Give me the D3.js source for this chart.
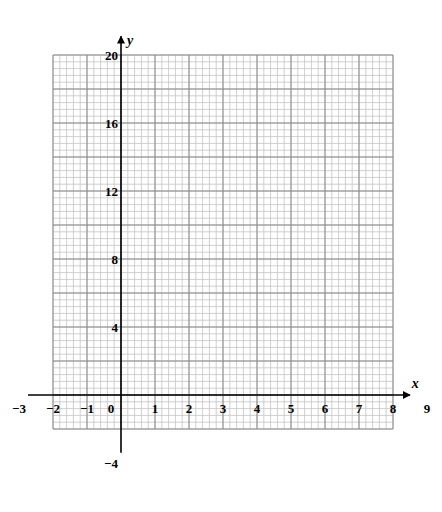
<html>
<head>
<script src="https://d3js.org/d3.v7.min.js"></script>
<style>
body { margin: 0; background: #fff; }
svg { font-family: "Liberation Serif", serif; }
.lbl { font-size: 13px; font-weight: bold; }
</style>
</head>
<body>
<svg id="chart" width="442" height="512"></svg>
<script>
// grid extents and tick labels
var xGrid = [-2, 8];
var yGrid = [-2, 20];
var xTicks = [-3, -2, -1, 0, 1, 2, 3, 4, 5, 6, 7, 8, 9];
var yTicks = [4, 8, 12, 16, 20];
var yBelow = [-4];
var xMinorStep = 0.2, yMinorStep = 0.4;
var xMajorStep = 1, yMajorStep = 2;

var svg = d3.select("#chart");
var x = d3.scaleLinear().domain([-2, 8]).range([53, 393]);
var y = d3.scaleLinear().domain([0, 20]).range([395, 55]);

function steps(a, b, s) {
  var n = Math.round((b - a) / s), out = [];
  for (var i = 0; i <= n; i++) out.push(+(a + i * s).toFixed(4));
  return out;
}

var g = svg.append("g");
// minor grid
g.selectAll(".vx").data(steps(xGrid[0], xGrid[1], xMinorStep)).enter().append("line")
  .attr("x1", d => x(d)).attr("x2", d => x(d)).attr("y1", y(yGrid[0])).attr("y2", y(yGrid[1]))
  .attr("stroke", "#c4c4c4").attr("stroke-width", 0.8);
g.selectAll(".hy").data(steps(yGrid[0], yGrid[1], yMinorStep)).enter().append("line")
  .attr("y1", d => y(d)).attr("y2", d => y(d)).attr("x1", x(xGrid[0])).attr("x2", x(xGrid[1]))
  .attr("stroke", "#c4c4c4").attr("stroke-width", 0.8);
// major grid
g.selectAll(".mx").data(steps(xGrid[0], xGrid[1], xMajorStep)).enter().append("line")
  .attr("x1", d => x(d)).attr("x2", d => x(d)).attr("y1", y(yGrid[0])).attr("y2", y(yGrid[1]))
  .attr("stroke", "#8a8a8a").attr("stroke-width", 1);
g.selectAll(".my").data(steps(yGrid[0], yGrid[1], yMajorStep)).enter().append("line")
  .attr("y1", d => y(d)).attr("y2", d => y(d)).attr("x1", x(xGrid[0])).attr("x2", x(xGrid[1]))
  .attr("stroke", "#8a8a8a").attr("stroke-width", 1);

// axes
svg.append("defs").append("marker").attr("id", "arr")
  .attr("viewBox", "0 0 10 10").attr("refX", 9).attr("refY", 5)
  .attr("markerWidth", 5).attr("markerHeight", 5).attr("orient", "auto")
  .append("path").attr("d", "M0,0L10,5L0,10z").attr("fill", "#000");
svg.append("line").attr("x1", 28).attr("x2", x(8.5)).attr("y1", y(0)).attr("y2", y(0))
  .attr("stroke", "#000").attr("stroke-width", 1.6).attr("marker-end", "url(#arr)");
svg.append("line").attr("x1", x(0)).attr("x2", x(0)).attr("y1", y(-3.4)).attr("y2", y(21.1))
  .attr("stroke", "#000").attr("stroke-width", 1.6).attr("marker-end", "url(#arr)");

svg.append("text").attr("x", x(8.55)).attr("y", y(0) - 7).attr("font-style", "italic")
  .attr("font-weight", "bold").attr("font-size", 14).text("x");
svg.append("text").attr("x", x(0) + 6).attr("y", y(20.6)).attr("font-style", "italic")
  .attr("font-weight", "bold").attr("font-size", 14).text("y");

svg.selectAll(".xl").data(xTicks).enter().append("text").attr("class", "lbl")
  .attr("x", d => x(d) + (d === 0 ? -10 : 0)).attr("y", y(0) + 18).attr("text-anchor", "middle")
  .text(d => d < 0 ? "\u2212" + (-d) : d);
svg.selectAll(".yl").data(yTicks).enter().append("text").attr("class", "lbl")
  .attr("x", x(0) - 3).attr("y", d => y(d) + 5).attr("text-anchor", "end")
  .text(d => d);
svg.selectAll(".yb").data(yBelow).enter().append("text").attr("class", "lbl")
  .attr("x", x(0) - 3).attr("y", d => y(d) + 5).attr("text-anchor", "end")
  .text(d => "\u2212" + (-d));
</script>
</body>
</html>
